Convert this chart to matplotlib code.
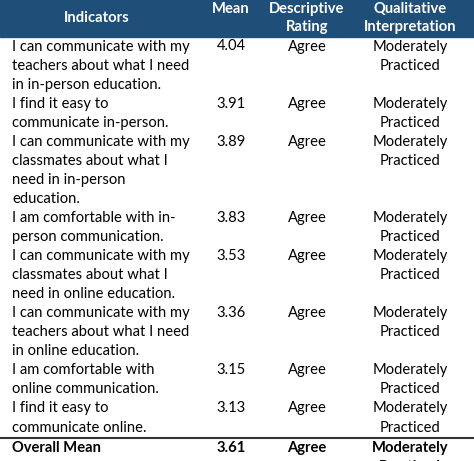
import matplotlib
matplotlib.use("Agg")
import matplotlib.pyplot as plt
from matplotlib.patches import Rectangle

headers = ["Indicators", "Mean", "Descriptive\nRating", "Qualitative\nInterpretation"]
indicators = [
    "I can communicate with my\nteachers about what I need\nin in-person education.",
    "I find it easy to\ncommunicate in-person.",
    "I can communicate with my\nclassmates about what I\nneed in in-person\neducation.",
    "I am comfortable with in-\nperson communication.",
    "I can communicate with my\nclassmates about what I\nneed in online education.",
    "I can communicate with my\nteachers about what I need\nin online education.",
    "I am comfortable with\nonline communication.",
    "I find it easy to\ncommunicate online.",
]
means = ["4.04", "3.91", "3.89", "3.83", "3.53", "3.36", "3.15", "3.13"]
ratings = ["Agree"] * 8
interps = ["Moderately\nPracticed"] * 8
overall = ["Overall Mean", "3.61", "Agree", "Moderately\nPracticed"]

W, H = 474, 461
fig = plt.figure(figsize=(W / 100, H / 100), dpi=100)
ax = fig.add_axes([0, 0, 1, 1])
ax.set_xlim(0, W)
ax.set_ylim(H, 0)
ax.axis("off")

font = "Lato"
fs = 10.6
lh = 19.05
cx = [12, 231, 307, 410]

ax.add_patch(Rectangle((0, 0), W, 37, color="#1f4e79", zorder=0))
ax.text(97, 18, headers[0], ha="center", va="center", color="white", weight="bold", fontsize=fs, family=font)
for i in range(1, 4):
    for j, s in enumerate(headers[i].split("\n")):
        ax.text(cx[i], 9 + j * 18.5, s, ha="center", va="center", color="white", weight="bold",
                fontsize=fs, family=font)

def put(row, y, bold=False):
    n = max(s.count("\n") + 1 for s in row)
    w = "bold" if bold else "normal"
    for i in range(4):
        for j, s in enumerate(row[i].split("\n")):
            ax.text(cx[i], y + j * lh, s, ha="left" if i == 0 else "center", va="center",
                    fontsize=fs, family=font, weight=w)
    return y + n * lh

y = 46.5
for k in range(len(indicators)):
    y = put([indicators[k], means[k], ratings[k], interps[k]], y)
ax.plot([0, W], [y - 9, y - 9], color="#333333", lw=1.5)
y = put(overall, y + 1, bold=True)
ax.plot([0, W], [y - 8, y - 8], color="#444444", lw=2.5)

fig.savefig("out.png", dpi=100)
